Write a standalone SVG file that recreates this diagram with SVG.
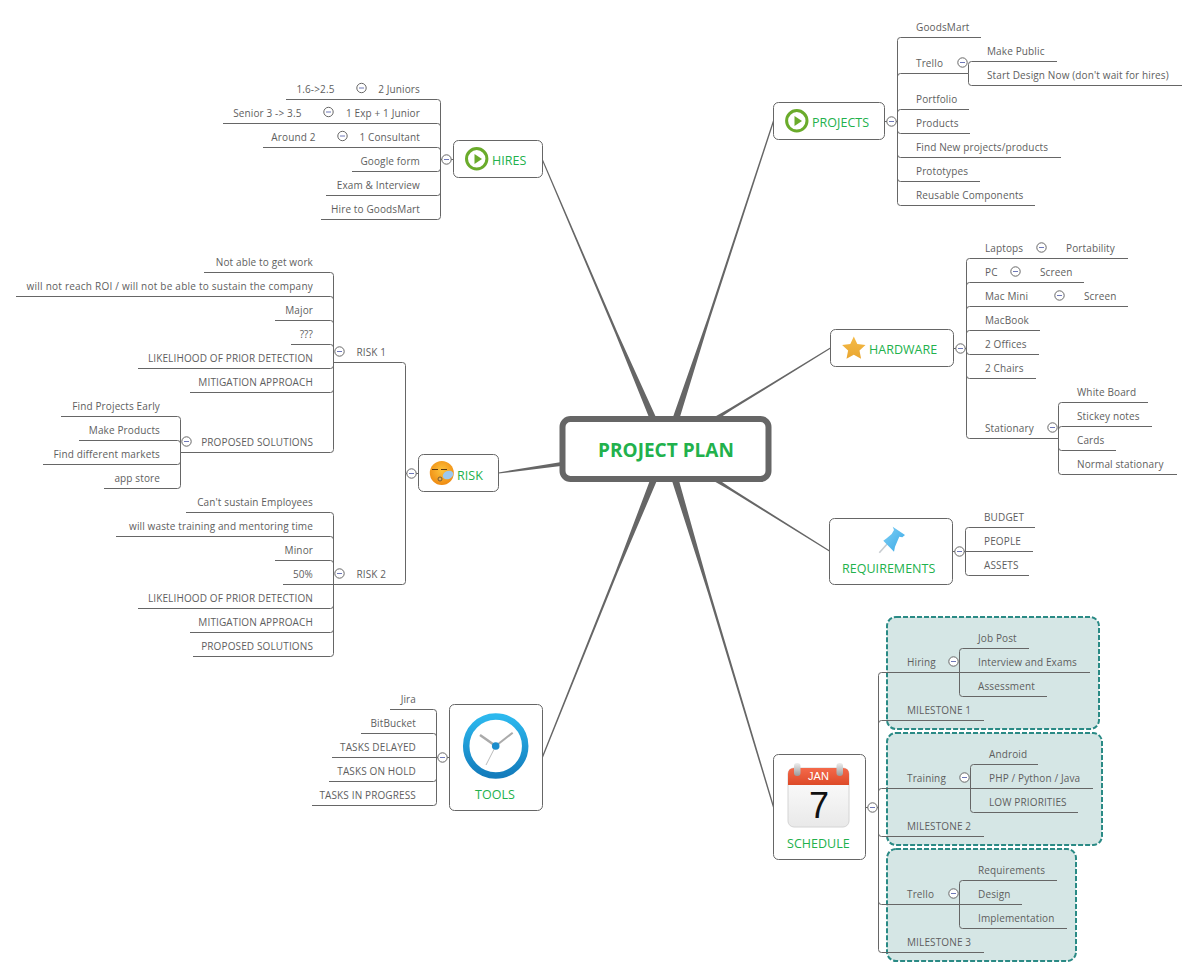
<svg xmlns="http://www.w3.org/2000/svg" width="1198" height="978" viewBox="0 0 1198 978">
<style>
text{font-family:"Open Sans","Noto Sans","Liberation Sans",sans-serif;font-size:10px;fill:#5e5e5e;letter-spacing:.13px}
.e{text-anchor:end}
.h{font-size:12.5px;fill:#22b14c;letter-spacing:.03px}
.m{text-anchor:middle}
.box{fill:#fff;stroke:#666;stroke-width:1}
.ln{fill:none;stroke:#666;stroke-width:1}
.wedge{fill:#666}
.bd{fill:#d5e6e5;stroke:#2a8a85;stroke-width:2;stroke-dasharray:5 2}
.play{fill:none;stroke:#6aab2b;stroke-width:3}
.playt{fill:#6aab2b}
</style>
<defs>
<g id="tog"><circle r="4.7" fill="#fff" stroke="#666" stroke-width="1"/><path d="M-2.500 0H2.500" stroke="#6f78b8" stroke-width="1"/></g>
<radialGradient id="face" cx=".5" cy=".4" r=".6"><stop offset="0" stop-color="#fdc33c"/><stop offset="1" stop-color="#ef8b12"/></radialGradient>
<linearGradient id="star" x1="0" y1="0" x2="0" y2="1"><stop offset="0" stop-color="#f5bb48"/><stop offset="1" stop-color="#e9a630"/></linearGradient>
<linearGradient id="pin" x1="0" y1="0" x2="1" y2="1"><stop offset="0" stop-color="#7fd0f5"/><stop offset="1" stop-color="#3aa8e6"/></linearGradient>
<linearGradient id="ring" x1="0" y1="0" x2="0" y2="1"><stop offset="0" stop-color="#2cb8ee"/><stop offset="1" stop-color="#137cbc"/></linearGradient>
<linearGradient id="calr" x1="0" y1="0" x2="0" y2="1"><stop offset="0" stop-color="#f4694a"/><stop offset="1" stop-color="#dd4a28"/></linearGradient>
<linearGradient id="calw" x1="0" y1="0" x2="0" y2="1"><stop offset="0" stop-color="#fff"/><stop offset="1" stop-color="#e9e9e9"/></linearGradient>
<linearGradient id="calm" x1="0" y1="0" x2="0" y2="1"><stop offset="0" stop-color="#eee"/><stop offset="1" stop-color="#999"/></linearGradient>
</defs>

<g id="boundaries">
<rect class="bd" x="887" y="617" width="212" height="112" rx="9"/>
<rect class="bd" x="887" y="733" width="215" height="112" rx="9"/>
<rect class="bd" x="887" y="849" width="189" height="112" rx="9"/>
</g>

<g id="connectors">
<polygon class="wedge" points="669.8,450.2 662.200,447.8 707.9,317.4 772.9,120.8 774.1,121.2 710.1,318.2"/>
<polygon class="wedge" points="669.7,447.4 662.3,450.6 615.5,333.9 542,160.2 543,159.8 617.7,332.9"/>
<polygon class="wedge" points="668.1,452.4 663.9,445.6 731.2,407.6 830.2,347.5 830.8,348.5 732.4,409.6"/>
<polygon class="wedge" points="668.1,445.6 663.9,452.4 730.8,490.8 829.2,551.5 829.8,550.5 732,488.8"/>
<polygon class="wedge" points="669.8,447.8 662.2,450.2 707.8,592.6 772.9,807.2 774.1,806.8 710.2,591.9"/>
<polygon class="wedge" points="669.7,450.5 662.3,447.5 615.5,571.8 541.9,756.8 543.1,757.2 617.7,572.6"/>
<polygon class="wedge" points="666.6,453 665.4,445 498.4,472.4 498.6,473.6"/>
<path class="ln" d="M884.5 121.5H897.5M897.5 121.5V40.5q0-3 3-3H981M897.5 121.5V76.5q0-3 3-3H968.5M897.5 121.5V112.5q0-3 3-3H969M897.5 121.5V130.5q0 3 3 3H970M897.5 121.5V154.5q0 3 3 3H1061M897.5 121.5V178.5q0 3 3 3H980M897.5 121.5V202.5q0 3 3 3H1035"/>
<path class="ln" d="M968.5 73.5V64.5q0-3 3-3H1057M968.5 73.5V82.5q0 3 3 3H1182"/>
<path class="ln" d="M453.5 159.5H440.5M440.5 159.5V102.5q0-3-3-3H286M440.5 159.5V126.5q0-3-3-3H223M440.5 159.5V150.5q0-3-3-3H263M440.5 159.5V168.5q0 3-3 3H352M440.5 159.5V192.5q0 3-3 3H326M440.5 159.5V216.5q0 3-3 3H321"/>
<path class="ln" d="M418.5 473.5H405.5M405.5 473.5V365.5q0-3-3-3H333.5M405.5 473.5V581.5q0 3-3 3H333.5"/>
<path class="ln" d="M333.5 362.5V275.5q0-3-3-3H204M333.5 362.5V299.5q0-3-3-3H16M333.5 362.5V323.5q0-3-3-3H275M333.5 362.5V347.5q0-3-3-3H291M333.5 362.5V365.5q0 3-3 3H138M333.5 362.5V389.5q0 3-3 3H190M333.5 362.5V449.5q0 3-3 3H180.5"/>
<path class="ln" d="M180.5 452.5V419.5q0-3-3-3H61M180.5 452.5V443.5q0-3-3-3H79M180.5 452.5V461.5q0 3-3 3H43M180.5 452.5V485.5q0 3-3 3H104"/>
<path class="ln" d="M333.5 584.5V515.5q0-3-3-3H186M333.5 584.5V539.5q0-3-3-3H116M333.5 584.5V563.5q0-3-3-3H275M333.5 584.5H283M333.5 584.5V605.5q0 3-3 3H138M333.5 584.5V629.5q0 3-3 3H190M333.5 584.5V653.5q0 3-3 3H193"/>
<path class="ln" d="M953.5 348.5H966.5M966.5 348.5V261.5q0-3 3-3H1128M966.5 348.5V285.5q0-3 3-3H1084M966.5 348.5V309.5q0-3 3-3H1128M966.5 348.5V333.5q0-3 3-3H1040M966.5 348.5V351.5q0 3 3 3H1039M966.5 348.5V375.5q0 3 3 3H1036M966.5 348.5V435.5q0 3 3 3H1058.5"/>
<path class="ln" d="M1058.5 438.5V405.5q0-3 3-3H1148M1058.5 438.5V429.5q0-3 3-3H1152M1058.5 438.5V447.5q0 3 3 3H1116M1058.5 438.5V471.5q0 3 3 3H1177"/>
<path class="ln" d="M952.5 551.5H1033M965.5 551.5V530.5q0-3 3-3H1035M965.5 551.5V572.5q0 3 3 3H1029"/>
<path class="ln" d="M449.5 757.5H332M436.5 757.5V712.5q0-3-3-3H390M436.5 757.5V736.5q0-3-3-3H361M436.5 757.5V778.5q0 3-3 3H329M436.5 757.5V802.5q0 3-3 3H312"/>
<path class="ln" d="M865.5 807.5H878.5M878.5 807.5V675.5q0-3 3-3H960M878.5 807.5V723.5q0-3 3-3H984M878.5 807.5V791.5q0-3 3-3H971M878.5 807.5V833.5q0 3 3 3H984M878.5 807.5V901.5q0 3 3 3H960M878.5 807.5V949.5q0 3 3 3H984"/>
<path class="ln" d="M959.5 672.5V651.5q0-3 3-3H1029M959.5 672.5H1090M959.5 672.5V693.5q0 3 3 3H1047"/>
<path class="ln" d="M970.5 788.5V767.5q0-3 3-3H1038M970.5 788.5H1093M970.5 788.5V809.5q0 3 3 3H1078"/>
<path class="ln" d="M959.5 904.5V883.5q0-3 3-3H1057M959.5 904.5H1022M959.5 904.5V925.5q0 3 3 3H1067"/>
<use href="#tog" x="891.5" y="121.5"/><use href="#tog" x="962.5" y="62.5"/>
<use href="#tog" x="446.5" y="159.5"/><use href="#tog" x="361.5" y="88"/><use href="#tog" x="328.5" y="112"/><use href="#tog" x="342.5" y="136"/>
<use href="#tog" x="411.5" y="473.5"/><use href="#tog" x="339.5" y="351.5"/><use href="#tog" x="186.5" y="441.5"/><use href="#tog" x="339.5" y="573.5"/>
<use href="#tog" x="960.5" y="348.5"/><use href="#tog" x="1041.5" y="247.5"/><use href="#tog" x="1015.5" y="271.5"/><use href="#tog" x="1059.5" y="295.5"/><use href="#tog" x="1052.5" y="427.5"/>
<use href="#tog" x="959.5" y="551.5"/><use href="#tog" x="442.5" y="757.5"/><use href="#tog" x="872.5" y="807.5"/>
<use href="#tog" x="953.5" y="661.5"/><use href="#tog" x="964.5" y="777.5"/><use href="#tog" x="953.5" y="893.5"/>
</g>

<g id="center"><rect x="562.5" y="419" width="206" height="60" rx="8" fill="#fff" stroke="#666" stroke-width="6"/><text class="m" x="666" y="457" style="font-size:19px;font-weight:700;fill:#22b14c;letter-spacing:0">PROJECT PLAN</text></g>

<g id="projects"><rect class="box" x="773.5" y="102.5" width="111" height="37" rx="5"/><circle class="play" cx="796.8" cy="120.8" r="10.2"/><path class="playt" d="M794.5 116v10l7.500-5z"/><text class="h" x="812" y="127">PROJECTS</text></g>
<g id="hires"><rect class="box" x="453.5" y="140.5" width="89" height="37" rx="5"/><circle class="play" cx="476.7" cy="158.8" r="10.2"/><path class="playt" d="M474.5 154v10l7.500-5z"/><text class="h" x="492" y="165">HIRES</text></g>
<g id="risk"><rect class="box" x="418.5" y="454.5" width="80" height="37" rx="5"/><circle cx="441.8" cy="473" r="12" fill="url(#face)"/><path d="M432 469.5h6M441 469.5h6" stroke="#5a3a10" stroke-width="1.2"/><ellipse cx="448" cy="475" rx="5.500" ry="4" fill="#9cc8f0" transform="rotate(-25 448 475)"/><circle cx="440" cy="479" r="2" fill="#e7b25a" stroke="#7a5a30"/><text class="h" x="457" y="479.5">RISK</text></g>
<g id="hardware"><rect class="box" x="830.5" y="329.5" width="123" height="37" rx="5"/><path d="M853.8 336.5l3.500 7.500 8.200 1-6 5.600 1.600 8.200-7.300-4.100-7.300 4.100 1.600-8.200-6-5.600 8.200-1z" fill="url(#star)"/><text class="h" x="869" y="354">HARDWARE</text></g>
<g id="requirements"><rect class="box" x="829.5" y="518.5" width="123" height="66" rx="5"/><path d="M879.3 552.7L888 543" stroke="#c8ccd0" stroke-width="1.6"/><path d="M892.7 526.7L905 535L902.3 537.3L899.3 536.7L895 546.7L894 551.7L883.300 540.7L886.7 538.3L891.7 534L894 530Z" fill="url(#pin)"/><text class="h" x="842" y="573">REQUIREMENTS</text></g>
<g id="schedule"><rect class="box" x="773.500" y="754.500" width="92" height="105" rx="5"/><rect x="788" y="768" width="61" height="59" rx="6" fill="url(#calw)" stroke="#d4d4d4"/><path d="M788 785v-11q0-6 6-6h49q6 0 6 6v11z" fill="url(#calr)"/><rect x="794" y="763" width="6.500" height="13" rx="3" fill="url(#calm)"/><rect x="836.500" y="763" width="6.500" height="13" rx="3" fill="url(#calm)"/><text class="m" x="818.500" y="780" style="font-size:11px;fill:#fff;font-family:'Liberation Sans',sans-serif;letter-spacing:0">JAN</text><text class="m" x="819" y="818" style="font-size:36px;fill:#111;font-family:'Liberation Sans',sans-serif;letter-spacing:0">7</text><text class="h" x="787" y="848">SCHEDULE</text></g>
<g id="tools"><rect class="box" x="449.500" y="704.500" width="93" height="106" rx="5"/><circle cx="495.700" cy="746" r="29.500" fill="#fff" stroke="url(#ring)" stroke-width="6.500"/><path d="M495.700 746L480 735" stroke="#aaa" stroke-width="2.500"/><path d="M495.700 746L512.700 732.700" stroke="#aaa" stroke-width="2"/><path d="M495.700 746L486 765" stroke="#bbb" stroke-width="1"/><circle cx="495.700" cy="746" r="3.800" fill="#1b8ccb"/><text class="h" x="475" y="799">TOOLS</text></g>

<g id="n-goodsmart"><text x="916" y="31">GoodsMart</text></g>
<g id="n-trello1"><text x="916" y="67">Trello</text></g>
<g id="n-public"><text x="987" y="55">Make Public</text></g>
<g id="n-design-now"><text x="987" y="79">Start Design Now (don't wait for hires)</text></g>
<g id="n-portfolio"><text x="916" y="103">Portfolio</text></g>
<g id="n-products"><text x="916" y="127">Products</text></g>
<g id="n-findnew"><text x="916" y="151">Find New projects/products</text></g>
<g id="n-prototypes"><text x="916" y="175">Prototypes</text></g>
<g id="n-reusable"><text x="916" y="199">Reusable Components</text></g>

<g id="n-h1"><text class="e" x="420" y="93">2 Juniors</text></g>
<g id="n-h1a"><text class="e" x="334.500" y="93">1.6-&gt;2.5</text></g>
<g id="n-h2"><text class="e" x="420" y="117">1 Exp + 1 Junior</text></g>
<g id="n-h2a"><text class="e" x="301.500" y="117">Senior 3 -&gt; 3.5</text></g>
<g id="n-h3"><text class="e" x="420" y="141">1 Consultant</text></g>
<g id="n-h3a"><text class="e" x="315.500" y="141">Around 2</text></g>
<g id="n-h4"><text class="e" x="420" y="165">Google form</text></g>
<g id="n-h5"><text class="e" x="420" y="189">Exam &amp; Interview</text></g>
<g id="n-h6"><text class="e" x="420" y="213">Hire to GoodsMart</text></g>

<g id="n-risk1"><text x="356.500" y="356">RISK 1</text></g>
<g id="n-r1a"><text class="e" x="313" y="266">Not able to get work</text></g>
<g id="n-r1b"><text class="e" x="313" y="290" style="letter-spacing:.23px">will not reach ROI / will not be able to sustain the company</text></g>
<g id="n-r1c"><text class="e" x="313" y="314">Major</text></g>
<g id="n-r1d"><text class="e" x="313" y="338">???</text></g>
<g id="n-r1e"><text class="e" x="313" y="362">LIKELIHOOD OF PRIOR DETECTION</text></g>
<g id="n-r1f"><text class="e" x="313" y="386">MITIGATION APPROACH</text></g>
<g id="n-r1g"><text class="e" x="313" y="446">PROPOSED SOLUTIONS</text></g>
<g id="n-s1"><text class="e" x="160" y="410">Find Projects Early</text></g>
<g id="n-s2"><text class="e" x="160" y="434">Make Products</text></g>
<g id="n-s3"><text class="e" x="160" y="458">Find different markets</text></g>
<g id="n-s4"><text class="e" x="160" y="482">app store</text></g>
<g id="n-risk2"><text x="356.500" y="578">RISK 2</text></g>
<g id="n-r2a"><text class="e" x="313" y="506">Can't sustain Employees</text></g>
<g id="n-r2b"><text class="e" x="313" y="530">will waste training and mentoring time</text></g>
<g id="n-r2c"><text class="e" x="313" y="554">Minor</text></g>
<g id="n-r2d"><text class="e" x="313" y="578">50%</text></g>
<g id="n-r2e"><text class="e" x="313" y="602">LIKELIHOOD OF PRIOR DETECTION</text></g>
<g id="n-r2f"><text class="e" x="313" y="626">MITIGATION APPROACH</text></g>
<g id="n-r2g"><text class="e" x="313" y="650">PROPOSED SOLUTIONS</text></g>

<g id="n-laptops"><text x="985" y="252">Laptops</text></g>
<g id="n-portability"><text x="1066" y="252">Portability</text></g>
<g id="n-pc"><text x="985" y="276">PC</text></g>
<g id="n-screen1"><text x="1040" y="276">Screen</text></g>
<g id="n-macmini"><text x="985" y="300">Mac Mini</text></g>
<g id="n-screen2"><text x="1084" y="300">Screen</text></g>
<g id="n-macbook"><text x="985" y="324">MacBook</text></g>
<g id="n-offices"><text x="985" y="348">2 Offices</text></g>
<g id="n-chairs"><text x="985" y="372">2 Chairs</text></g>
<g id="n-stationary"><text x="985" y="432">Stationary</text></g>
<g id="n-whiteboard"><text x="1077" y="396">White Board</text></g>
<g id="n-stickey"><text x="1077" y="420">Stickey notes</text></g>
<g id="n-cards"><text x="1077" y="444">Cards</text></g>
<g id="n-normal"><text x="1077" y="468">Normal stationary</text></g>

<g id="n-budget"><text x="984" y="521">BUDGET</text></g>
<g id="n-people"><text x="984" y="545">PEOPLE</text></g>
<g id="n-assets"><text x="984" y="569">ASSETS</text></g>

<g id="n-hiring"><text x="907" y="666">Hiring</text></g>
<g id="n-jobpost"><text x="978" y="642">Job Post</text></g>
<g id="n-interview"><text x="978" y="666">Interview and Exams</text></g>
<g id="n-assessment"><text x="978" y="690">Assessment</text></g>
<g id="n-m1"><text x="907" y="714">MILESTONE 1</text></g>
<g id="n-training"><text x="907" y="782">Training</text></g>
<g id="n-android"><text x="989" y="758">Android</text></g>
<g id="n-php"><text x="989" y="782">PHP / Python / Java</text></g>
<g id="n-low"><text x="989" y="806">LOW PRIORITIES</text></g>
<g id="n-m2"><text x="907" y="830">MILESTONE 2</text></g>
<g id="n-trello2"><text x="907" y="898">Trello</text></g>
<g id="n-req"><text x="978" y="874">Requirements</text></g>
<g id="n-design"><text x="978" y="898">Design</text></g>
<g id="n-impl"><text x="978" y="922">Implementation</text></g>
<g id="n-m3"><text x="907" y="946">MILESTONE 3</text></g>

<g id="n-jira"><text class="e" x="416" y="703">Jira</text></g>
<g id="n-bitbucket"><text class="e" x="416" y="727">BitBucket</text></g>
<g id="n-delayed"><text class="e" x="416" y="751">TASKS DELAYED</text></g>
<g id="n-hold"><text class="e" x="416" y="775">TASKS ON HOLD</text></g>
<g id="n-progress"><text class="e" x="416" y="799">TASKS IN PROGRESS</text></g>
</svg>
